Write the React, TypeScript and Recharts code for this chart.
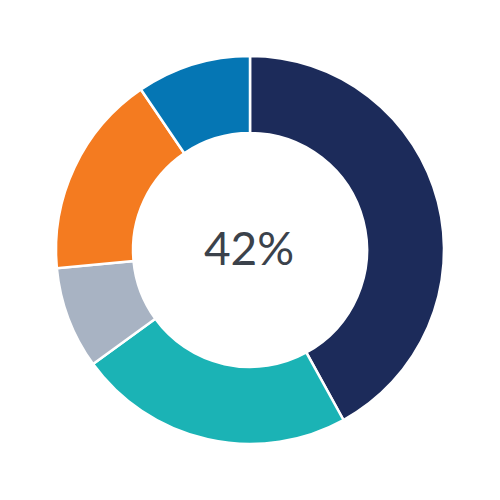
import React from "react";
import { PieChart, Pie, Cell } from "recharts";

const categories = ["A", "B", "C", "D", "E"];
const values = [42, 23, 8.5, 17, 9.5];
const colors = ["#1c2b5a", "#1bb3b5", "#a8b3c3", "#f47b20", "#0576b4"];
const centerLabel = "42%";

const data = categories.map((name, i) => ({ name, value: values[i] }));

export default function App() {
  return (
    <div style={{ position: "absolute", left: 0, top: 0, width: 500, height: 500, background: "#fff" }}>
      <PieChart width={500} height={500} margin={{ top: 0, right: 0, bottom: 0, left: 0 }}>
        <Pie
          data={data}
          dataKey="value"
          nameKey="name"
          cx={250}
          cy={250}
          innerRadius={117}
          outerRadius={194}
          startAngle={90}
          endAngle={-270}
          stroke="#ffffff"
          strokeWidth={2.5}
          isAnimationActive={false}
        >
          {data.map((d, i) => (
            <Cell key={d.name} fill={colors[i]} />
          ))}
        </Pie>
        <text
          x={249}
          y={247}
          textAnchor="middle"
          dominantBaseline="central"
          fontFamily="Lato"
          fontSize={46}
          fill="#3b424b"
        >
          {centerLabel}
        </text>
      </PieChart>
    </div>
  );
}
